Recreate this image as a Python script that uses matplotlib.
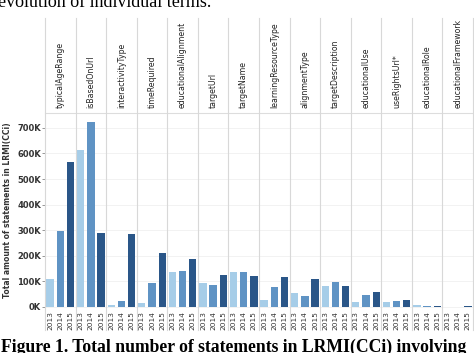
import numpy as np
import matplotlib.pyplot as plt

# terms and yearly counts (thousands of statements)
terms = ["typicalAgeRange", "isBasedOnUrl", "interactivityType", "timeRequired",
         "educationalAlignment", "targetUrl", "targetName", "learningResourceType",
         "alignmentType", "targetDescription", "educationalUse", "useRightsUrl*",
         "educationalRole", "educationalFramework"]
years = ["2013", "2014", "2015"]
v2013 = [110, 615, 8, 17, 137, 93, 135, 26, 53, 83, 21, 21, 8, 1]
v2014 = [298, 723, 24, 93, 139, 87, 135, 79, 41, 96, 47, 24, 5, 1]
v2015 = [565, 289, 284, 210, 187, 126, 121, 118, 109, 83, 57, 29, 5, 3]
colors = ["#a6cde8", "#5f93c4", "#2a5688"]

W, H = 474, 353
fig = plt.figure(figsize=(W / 100, H / 100), dpi=100)

# main plot area
ax = fig.add_axes([45 / W, 1 - 308 / H, 428 / W, 195 / H])
vals = np.array([v2013, v2014, v2015]).T.flatten() * 1000
x = np.arange(len(vals))
ax.bar(x, vals, width=0.72, color=colors * len(terms), zorder=3)
ax.set_xlim(-0.5, len(vals) - 0.5)
ax.set_ylim(-4000, 758000)
ax.set_yticks(np.arange(0, 800000, 100000))
ax.set_yticklabels([f"{int(t / 1000)}K" for t in np.arange(0, 800000, 100000)],
                   fontsize=6, fontweight="bold", color="#333333")
ax.set_xticks(x)
ax.set_xticklabels(years * len(terms), rotation=90, fontsize=5.3, color="#333333")
ax.tick_params(axis="x", length=0, pad=2)
ax.tick_params(axis="y", length=2, width=0.6, color="#888888", pad=1)
ax.grid(axis="y", color="#f0f0f0", lw=0.6, zorder=0)
for s in ax.spines.values():
    s.set_visible(False)
ax.axhline(ax.get_ylim()[1], color="#dddddd", lw=0.8, clip_on=False)
ax.set_ylabel("Total amount of statements in LRMI(CCi)", fontsize=5.5,
              fontweight="bold", color="#333333", labelpad=4)

# column header area with term names
hx = fig.add_axes([45 / W, 1 - 113 / H, 428 / W, 95 / H])
hx.set_xlim(-0.5, len(vals) - 0.5)
hx.set_ylim(0, 1)
hx.axis("off")
for i, t in enumerate(terms):
    hx.text(3 * i + 1, 0.05, t, rotation=90, ha="center", va="bottom",
            fontsize=5.6, color="#222222")

# group separators running through header, plot and tick labels
for k in range(len(terms) + 1):
    xf = (45 + k * 428 / len(terms)) / W
    fig.add_artist(plt.Line2D([xf, xf], [1 - 330 / H, 1 - 18 / H],
                              color="#d8d8d8", lw=0.8, transform=fig.transFigure))

# surrounding paper text (cropped page, so partly cut off)
fig.text(-0.004, 1 - 7 / H, "evolution of individual terms.", fontsize=13,
         family="Liberation Serif", va="baseline", ha="left")
fig.text(0.003, 1 - 352 / H, "Figure 1. Total number of statements in LRMI(CCi) involving",
         fontsize=12.7, family="Liberation Serif", fontweight="bold",
         va="baseline", ha="left")

fig.savefig("out.png", dpi=100)
